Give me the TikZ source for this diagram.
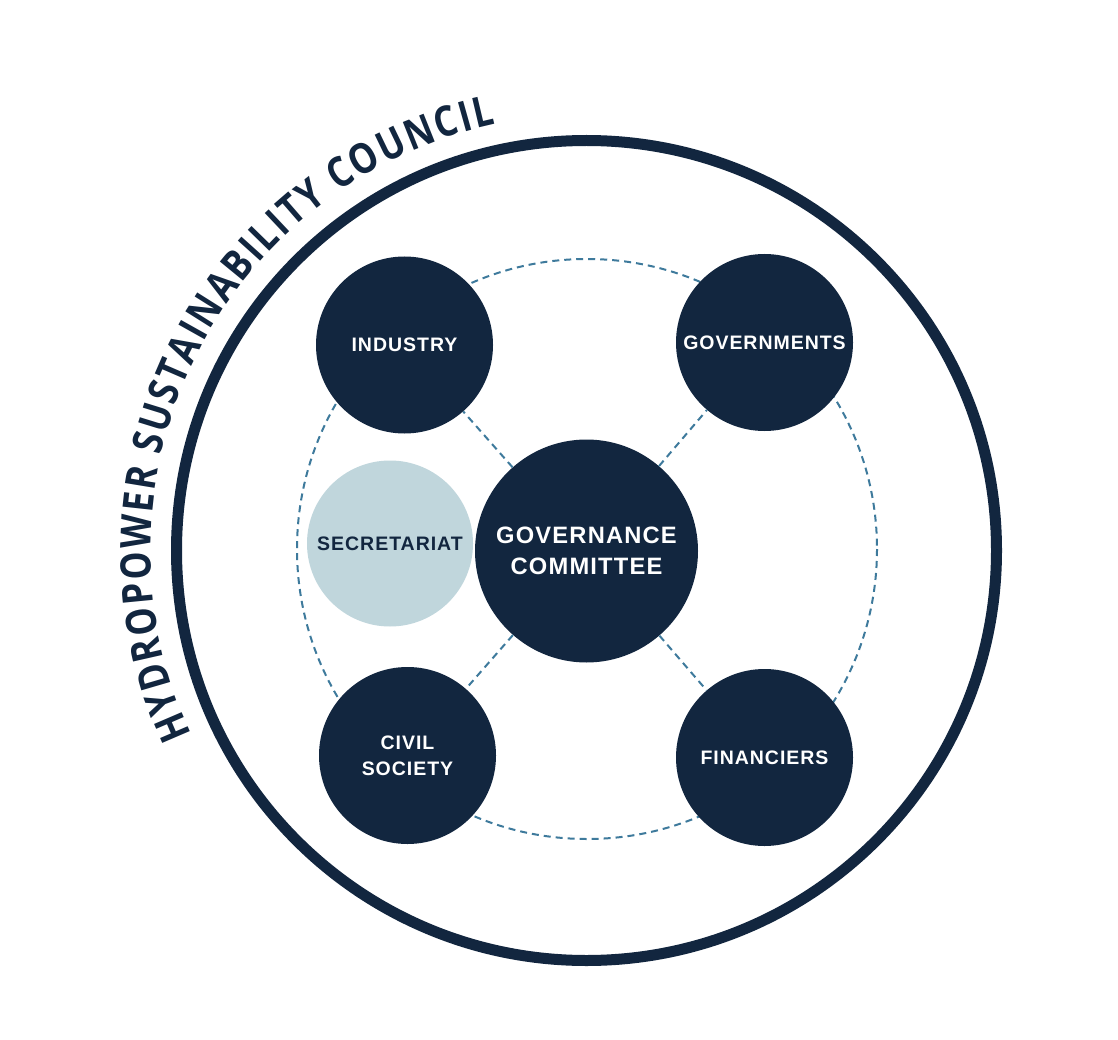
\documentclass[tikz,border=0pt]{standalone}
\usepackage{fontspec}
\usetikzlibrary{decorations.text}
\newfontfamily\nodefont{Liberation Sans}[LetterSpace=5]
\newfontfamily\arcfont{Open Sans}[FakeStretch=0.84]
\definecolor{navy}{HTML}{12263F}
\definecolor{secfill}{HTML}{C0D6DC}
\definecolor{dashblue}{HTML}{3E7A9C}
\tikzset{
  member/.style={circle, fill=navy, inner sep=0pt, minimum size=177pt, text=white, align=center,
     font=\nodefont\bfseries\fontsize{19.5}{26}\selectfont},
  govbox/.style={circle, fill=navy, inner sep=0pt, minimum size=223pt, text=white, align=center,
     font=\nodefont\bfseries\fontsize{23.7}{31}\selectfont},
  secbox/.style={circle, fill=secfill, inner sep=0pt, minimum size=166pt, text=navy, align=center,
     font=\nodefont\bfseries\fontsize{19.5}{26}\selectfont},
  spoke/.style={draw=dashblue, line width=2pt, dash pattern=on 7pt off 5pt},
  ring/.style={draw=navy, line width=11pt},
}
\begin{document}
\begin{tikzpicture}[x=1pt, y=-1pt]
\useasboundingbox[fill=white] (0,0) rectangle (1118,1040);
\coordinate (c) at (586.5,550.5);
\coordinate (dc) at (587,549);
% outer council ring
\draw[ring] (c) circle[radius=410];
% dashed orbit
\draw[spoke] (dc) circle[radius=290];
% curved title
\path[decorate, decoration={text along path,
   text={|\arcfont\bfseries\fontsize{42}{42}\selectfont|HYDROPOWER SUSTAINABILITY COUNCIL},
   text color=navy, text align={fit to path}}]
   (c) ++(155:436) arc[start angle=155, end angle=258, radius=436];
% nodes
\node[govbox] (gov) at (586.5,551) {GOVERNANCE\\COMMITTEE};
\node[member] (ind) at (404.5,345) {INDUSTRY};
\node[member] (govt) at (764.5,342.5) {GOVERNMENTS};
\node[member] (civ) at (407.5,755.5) {CIVIL\\SOCIETY};
\node[member] (fin) at (764.5,757.5) {FINANCIERS};
\node[secbox] (sec) at (390,543.5) {SECRETARIAT};
% spokes
\draw[spoke] (gov) -- (ind);
\draw[spoke] (gov) -- (govt);
\draw[spoke] (gov) -- (civ);
\draw[spoke] (gov) -- (fin);
\end{tikzpicture}
\end{document}
